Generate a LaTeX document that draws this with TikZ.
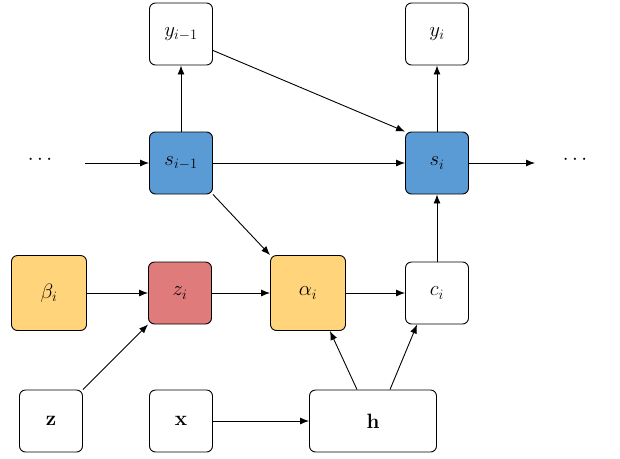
\documentclass[tikz,border=0pt]{standalone}
\usetikzlibrary{arrows.meta}
\definecolor{cblue}{HTML}{5B9BD5}
\definecolor{cyel}{HTML}{FFD47A}
\definecolor{cred}{HTML}{E07B7B}
\begin{document}
\begin{tikzpicture}[x=1pt,y=-1pt,
  box/.style={draw,rounded corners=6pt,line width=0.9pt,minimum width=63pt,minimum height=62pt,inner sep=0pt,font=\huge},
  big/.style={box,minimum width=75pt,minimum height=75pt},
  arr/.style={-{Latex[length=9pt,width=7pt]},line width=0.9pt}]
\useasboundingbox (0,0) rectangle (620,458);
\node[box] (y1) at (181,34) {$y_{i-1}$};
\node[box] (y) at (437,34) {$y_i$};
\node[box,fill=cblue] (s1) at (181,163) {$s_{i-1}$};
\node[box,fill=cblue] (s) at (437,163) {$s_i$};
\node[font=\huge] (dl) at (40,160) {$\cdots$};
\node[font=\huge] (dr) at (575,160) {$\cdots$};
\coordinate (inl) at (85,163);
\coordinate (outr) at (535,163);
\node[big,fill=cyel] (b) at (49,293) {$\beta_i$};
\node[box,fill=cred] (zi) at (180,293) {$z_i$};
\node[big,fill=cyel] (a) at (308,293) {$\alpha_i$};
\node[box] (c) at (437,293) {$c_i$};
\node[box] (z) at (51,421) {$\mathbf{z}$};
\node[box] (x) at (181,421) {$\mathbf{x}$};
\node[box,minimum width=127pt] (h) at (373,421) {$\mathbf{h}$};
\draw[arr] (inl) -- (s1);
\draw[arr] (s1) -- (s);
\draw[arr] (s) -- (outr);
\draw[arr] (s1) -- (y1);
\draw[arr] (s) -- (y);
\draw[arr] (y1.south east)++(0,-15) -- (s.north west);
\draw[arr] (s1.south east) -- (a.north west);
\draw[arr] (b) -- (zi);
\draw[arr] (zi) -- (a);
\draw[arr] (a) -- (c);
\draw[arr] (c) -- (s);
\draw[arr] (z.north east) -- (zi.south west);
\draw[arr] (x) -- (h);
\draw[arr] ([xshift=-16pt]h.north) -- ([xshift=-16pt]a.south east);
\draw[arr] ([xshift=17pt]h.north) -- ([xshift=12pt]c.south west);
\end{tikzpicture}
\end{document}
